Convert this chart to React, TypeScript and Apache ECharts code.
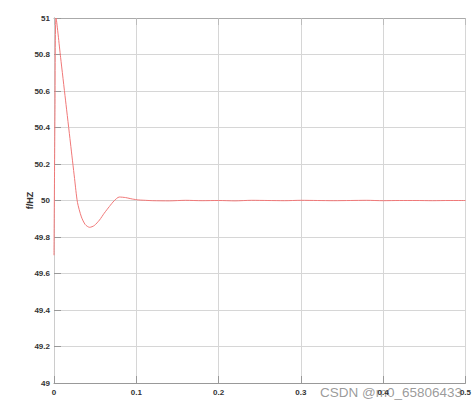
import React, { useEffect, useRef } from "react";
import * as echarts from "echarts";

const timeS = [
  0, 0.0012, 0.0025, 0.008, 0.014, 0.02, 0.025, 0.0285, 0.0333,
  0.038, 0.0433, 0.049, 0.0553, 0.061, 0.0673, 0.073, 0.0793, 0.087, 0.0953, 0.103,
  0.111, 0.12, 0.14, 0.16, 0.18, 0.2, 0.22, 0.24, 0.26, 0.28, 0.3, 0.32, 0.34, 0.36,
  0.38, 0.4, 0.42, 0.44, 0.46, 0.48, 0.5,
];
const freqHz = [
  49.7, 50.5, 51.0, 50.785, 50.55, 50.315, 50.12, 49.99, 49.91,
  49.868, 49.853, 49.863, 49.893, 49.93, 49.967, 49.998, 50.019, 50.016, 50.008, 50.003,
  50.001, 49.999, 49.998, 50.001, 49.999, 50.0, 49.998, 50.001, 50.0, 49.999, 50.001, 50.0, 49.999, 50.0,
  50.001, 49.999, 50.0, 50.0, 49.999, 50.0, 50.0,
];
const yAxisName = "f/HZ";
const watermark = "CSDN @m0_65806433";

export default function App() {
  const ref = useRef<HTMLDivElement>(null);
  useEffect(() => {
    if (!ref.current) return;
    const chart = echarts.init(ref.current, null, { renderer: "svg" });
    const label = { fontSize: 8, fontWeight: "bold" as const, color: "#333", fontFamily: "Liberation Sans, Arial, sans-serif" };
    chart.setOption({
      animation: false,
      backgroundColor: "#fff",
      grid: { left: 54, right: 2.5, top: 18, bottom: 23 },
      xAxis: [
        {
          type: "value",
          min: 0,
          max: 0.5,
          interval: 0.1,
          axisLine: { show: true, lineStyle: { color: "#999", width: 1 } },
          axisTick: { show: true, inside: true, length: 7, lineStyle: { color: "#999" } },
          splitLine: { show: true, lineStyle: { color: "#d6d6d6", width: 1 } },
          axisLabel: { ...label, margin: 5, showMaxLabel: true },
        },
        {
          type: "value",
          position: "top",
          min: 0,
          max: 0.5,
          interval: 0.1,
          axisLine: { show: true, lineStyle: { color: "#aaa", width: 1 } },
          axisTick: { show: true, inside: true, length: 7, lineStyle: { color: "#bbb" } },
          splitLine: { show: false },
          axisLabel: { show: false },
        },
      ],
      yAxis: [
        {
          type: "value",
          min: 49,
          max: 51,
          interval: 0.2,
          name: yAxisName,
          nameLocation: "middle",
          nameGap: 20,
          nameMoveOverlap: false,
          nameRotate: 90,
          nameTextStyle: { ...label, fontSize: 9 },
          axisLine: { show: true, lineStyle: { color: "#999", width: 1 } },
          axisTick: { show: true, inside: true, length: 7, lineStyle: { color: "#999" } },
          splitLine: { show: true, lineStyle: { color: "#d6d6d6", width: 1 } },
          axisLabel: { ...label, margin: 4 },
        },
        {
          type: "value",
          position: "right",
          min: 49,
          max: 51,
          interval: 0.2,
          axisLine: { show: true, lineStyle: { color: "#ccc", width: 1 } },
          axisTick: { show: false },
          splitLine: { show: false },
          axisLabel: { show: false },
        },
      ],
      series: [
        {
          type: "line",
          data: timeS.map((t, i) => [t, freqHz[i]]),
          showSymbol: false,
          smooth: 0.25,
          clip: true,
          lineStyle: { color: "#f07878", width: 1 },
        },
      ],
      graphic: [
        {
          type: "text",
          right: 12,
          top: 385,
          style: {
            text: watermark,
            fill: "rgba(110,110,110,0.7)",
            fontSize: 13.5,
            fontFamily: "Liberation Sans, Arial, sans-serif",
          },
        },
      ],
    });
    return () => chart.dispose();
  }, []);
  return (
    <div
      ref={ref}
      style={{ position: "fixed", left: 0, top: 0, width: 474, height: 406 }}
    />
  );
}
